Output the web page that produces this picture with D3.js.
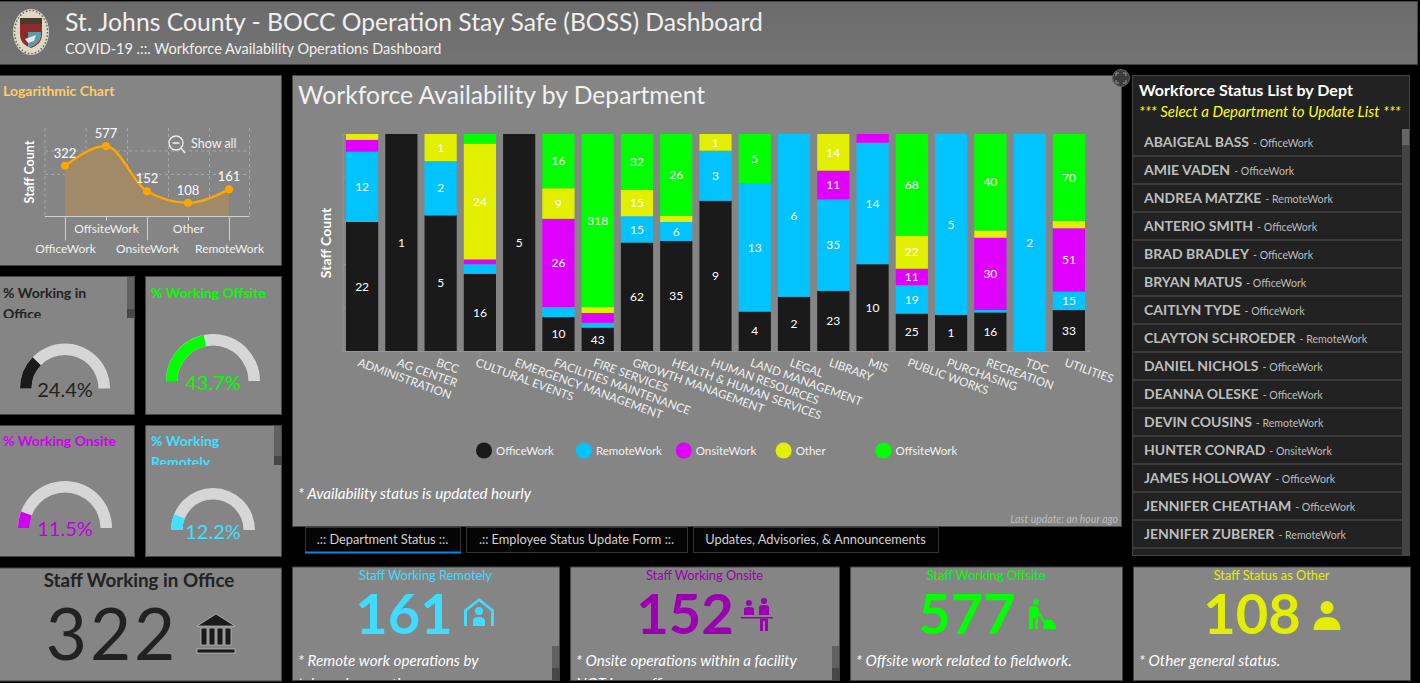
<!DOCTYPE html>
<html>
<head>
<meta charset="utf-8">
<script src="https://cdn.jsdelivr.net/npm/d3@7"></script>
<style>
  html, body { margin: 0; background: #000; overflow: hidden; }
  svg { display: block; font-family: Lato, "Open Sans", sans-serif; }
</style>
</head>
<body>
<svg id="board" width="1420" height="683"></svg>
<script>
// Stacked chart data
var departments = ["ADMINISTRATION", "AG CENTER", "BCC", "CULTURAL EVENTS", "EMERGENCY MANAGEMENT",
  "FACILITIES MAINTENANCE", "FIRE SERVICES", "GROWTH MANAGEMENT", "HEALTH & HUMAN SERVICES",
  "HUMAN RESOURCES", "LAND MANAGEMENT", "LEGAL", "LIBRARY", "MIS", "PUBLIC WORKS", "PURCHASING",
  "RECREATION", "TDC", "UTILITIES"];
var statusNames = ["OfficeWork", "RemoteWork", "OnsiteWork", "Other", "OffsiteWork"];
var statusColors = ["#1a1a1a", "#00c3ff", "#df00ff", "#e2f000", "#00ff00"];
var officeWork  = [22, 1, 5, 16, 5, 10, 43, 62, 35, 9, 4, 2, 23, 10, 25, 1, 16, 0, 33];
var remoteWork  = [12, 0, 2, 2, 0, 3, 9, 15, 6, 3, 13, 6, 35, 14, 19, 5, 1, 2, 15];
var onsiteWork  = [2, 0, 0, 1, 0, 26, 18, 0, 0, 0, 0, 0, 11, 1, 11, 0, 30, 0, 51];
var otherWork   = [1, 0, 1, 24, 0, 9, 11, 15, 2, 1, 0, 0, 14, 0, 22, 0, 3, 0, 6];
var offsiteWork = [0, 0, 0, 2, 0, 16, 318, 32, 26, 0, 5, 0, 0, 0, 68, 0, 40, 0, 70];

// Log chart data
var logCategories = ["OfficeWork", "OffsiteWork", "OnsiteWork", "Other", "RemoteWork"];
var logValues = [322, 577, 152, 108, 161];
var logGridValues = [500, 250];

// Gauges
var gaugeValues = [24.4, 43.7, 11.5, 12.2];
var gaugeColors = ["#1a1a1a", "#00ff00", "#d000f0", "#40e0ff"];
var gaugeTextColors = ["#222222", "#00ff00", "#c000e0", "#40e0ff"];

// Employee list
var employeeNames = ["ABAIGEAL BASS", "AMIE VADEN", "ANDREA MATZKE", "ANTERIO SMITH", "BRAD BRADLEY",
  "BRYAN MATUS", "CAITLYN TYDE", "CLAYTON SCHROEDER", "DANIEL NICHOLS", "DEANNA OLESKE",
  "DEVIN COUSINS", "HUNTER CONRAD", "JAMES HOLLOWAY", "JENNIFER CHEATHAM", "JENNIFER ZUBERER"];
var employeeStatus = ["OfficeWork", "OfficeWork", "RemoteWork", "OfficeWork", "OfficeWork",
  "OfficeWork", "OfficeWork", "RemoteWork", "OfficeWork", "OfficeWork",
  "RemoteWork", "OnsiteWork", "OfficeWork", "OfficeWork", "RemoteWork"];

var tabLabels = [".:: Department Status ::.", ".:: Employee Status Update Form ::.", "Updates, Advisories, & Announcements"];

var svg = d3.select("#board");
var defs = svg.append("defs");
var panelColor = "#858585";

function panel(x, y, w, h, fill) {
  return svg.append("rect").attr("x", x + 0.5).attr("y", y + 0.5).attr("width", w).attr("height", h)
    .attr("fill", fill || panelColor).attr("stroke", "#444");
}

function label(parent, x, y, str, size, color, opts) {
  opts = opts || {};
  return parent.append("text").attr("x", x).attr("y", y).text(str)
    .attr("font-size", size).attr("fill", color)
    .attr("font-weight", opts.weight || 400)
    .attr("font-style", opts.italic ? "italic" : "normal")
    .attr("text-anchor", opts.anchor || "start");
}

// clipped text block, these panels scroll in the real dashboard
function clipGroup(id, x, y, w, h) {
  defs.append("clipPath").attr("id", id).append("rect").attr("x", x).attr("y", y).attr("width", w).attr("height", h);
  return svg.append("g").attr("clip-path", "url(#" + id + ")");
}

function scrollBar(x, y, h, thumbY, thumbH) {
  svg.append("rect").attr("x", x).attr("y", y).attr("width", 7).attr("height", h).attr("fill", "#616161");
  svg.append("rect").attr("x", x).attr("y", thumbY).attr("width", 7).attr("height", thumbH).attr("fill", "#474747");
}

// Header
var headerFill = defs.append("linearGradient").attr("id", "headerFill").attr("x1", 0).attr("x2", 0).attr("y1", 0).attr("y2", 1);
headerFill.append("stop").attr("offset", 0).attr("stop-color", "#6b6b6b");
headerFill.append("stop").attr("offset", 1).attr("stop-color", "#747474");
panel(-1, 1, 1418, 63, "url(#headerFill)");
label(svg, 65, 31, "St. Johns County - BOCC Operation Stay Safe (BOSS) Dashboard", 24.7, "#f0f0f0");
label(svg, 65, 54, "COVID-19 .::. Workforce Availability Operations Dashboard", 14.5, "#f0f0f0");

// County seal, simplified
var seal = svg.append("g").attr("transform", "translate(31,32)");
seal.append("ellipse").attr("rx", 18).attr("ry", 23).attr("fill", "#ded9c6");
seal.append("ellipse").attr("rx", 16.5).attr("ry", 21.5).attr("fill", "none").attr("stroke", "#6a6353").attr("stroke-width", 1.5).attr("stroke-dasharray", "1.5 2");
seal.append("path").attr("d", "M-11,-12H11V3Q11,12 0,16Q-11,12 -11,3Z").attr("fill", "#8c2a2c");
seal.append("path").attr("d", "M-11,-14H11V-8H-11Z").attr("fill", "#4a3a28");
seal.append("path").attr("d", "M-3,0H10V4Q10,11 0,15H-3Z").attr("fill", "#5d9aa5");
seal.append("path").attr("d", "M-6,7L5,3L3,9L-3,11Z").attr("fill", "#e6e6e6");

// Main stacked chart
panel(292, 75, 829, 451);
label(svg, 298, 104, "Workforce Availability by Department", 24.7, "#f2f2f2");

var stackMargin = { left: 346, right: 1085, top: 134, bottom: 351 };
var xStack = d3.scaleBand().domain(departments).range([stackMargin.left, stackMargin.right]).paddingInner(0.18).paddingOuter(0);
var yStack = d3.scaleLinear().domain([0, 1]).range([stackMargin.bottom, stackMargin.top]);

var stackRows = departments.map(function(dept, i) {
  return { dept: dept, OfficeWork: officeWork[i], RemoteWork: remoteWork[i], OnsiteWork: onsiteWork[i], Other: otherWork[i], OffsiteWork: offsiteWork[i] };
});
var series = d3.stack().keys(statusNames).offset(d3.stackOffsetExpand)(stackRows);

// Axes first so the bars sit on top
var yAxisG = svg.append("g").attr("transform", "translate(342.5,0)")
  .call(d3.axisLeft(yStack).tickValues([0, 0.2, 0.4, 0.6, 0.8, 1]).tickSize(-4).tickFormat(""));
yAxisG.selectAll("path, line").attr("stroke", "#959595");

var xAxisG = svg.append("g").attr("transform", "translate(0,351.5)")
  .call(d3.axisBottom(xStack).tickSize(4).tickPadding(6));
xAxisG.select(".domain").attr("stroke", "#959595").attr("d", "M342,0H1090");
xAxisG.selectAll("line").attr("stroke", "#959595");
xAxisG.selectAll("text")
  .attr("font-family", "Lato, sans-serif").attr("font-size", 11.6).attr("fill", "#f0f0f0")
  .attr("text-anchor", "start").attr("x", 0).attr("y", 11).attr("dy", "0.35em")
  .attr("transform", "rotate(20)");

var layers = svg.append("g").selectAll("g").data(series).join("g")
  .attr("fill", function(d, i) { return statusColors[i]; });
layers.selectAll("rect").data(function(d) { return d; }).join("rect")
  .attr("x", function(d) { return xStack(d.data.dept); })
  .attr("width", xStack.bandwidth())
  .attr("y", function(d) { return yStack(d[1]); })
  .attr("height", function(d) { return yStack(d[0]) - yStack(d[1]); });

// value labels only where the segment has room
series.forEach(function(layer) {
  svg.append("g").selectAll("text").data(layer.filter(function(d) {
    return yStack(d[0]) - yStack(d[1]) > 14;
  })).join("text")
    .attr("x", function(d) { return xStack(d.data.dept) + xStack.bandwidth() / 2; })
    .attr("y", function(d) { return (yStack(d[0]) + yStack(d[1])) / 2; })
    .attr("dy", "0.35em").attr("text-anchor", "middle").attr("font-size", 12).attr("fill", "#fff")
    .text(function(d) { return d.data[layer.key]; });
});

label(svg, 0, 0, "Staff Count", 14, "#fff", { weight: 700, anchor: "middle" })
  .attr("transform", "translate(331,243) rotate(-90)");

// Legend
var xLegend = d3.scalePoint().domain(statusNames).range([484, 883.5]);
var legend = svg.append("g").selectAll("g").data(statusNames).join("g")
  .attr("transform", function(d) { return "translate(" + xLegend(d) + ",450.5)"; });
legend.append("circle").attr("r", 8).attr("fill", function(d, i) { return statusColors[i]; });
legend.append("text").attr("x", 12).attr("dy", "0.35em").attr("font-size", 11.5).attr("fill", "#f2f2f2").text(function(d) { return d; });

label(svg, 298, 499, "* Availability status is updated hourly", 15.2, "#fff", { italic: true });
label(svg, 1118, 523, "Last update: an hour ago", 10.5, "#bdbdbd", { italic: true, anchor: "end" });

// Expand button on the chart corner
var expand = svg.append("g").attr("transform", "translate(1121,78)");
expand.append("circle").attr("r", 8.5).attr("fill", "#3c3c3c").attr("stroke", "#666");
expand.append("path").attr("d", "M-5,-2V-5H-2M2,-5H5V-2M5,2V5H2M-2,5H-5V2").attr("fill", "none").attr("stroke", "#9a9a9a");

// Tabs
var tabX = [305, 466, 693];
var tabW = [155, 221, 245];
tabLabels.forEach(function(t, i) {
  svg.append("rect").attr("x", tabX[i] + 0.5).attr("y", 527.5).attr("width", tabW[i]).attr("height", 25)
    .attr("fill", "#050505").attr("stroke", "#333");
  label(svg, tabX[i] + tabW[i] / 2, 544, t, 12.8, "#d0d0d0", { anchor: "middle" });
});
svg.append("rect").attr("x", 305).attr("y", 551.5).attr("width", 156).attr("height", 2).attr("fill", "#0a84e8");

// Log chart panel
panel(-1, 75, 282, 190);
label(svg, 3, 96, "Logarithmic Chart", 14, "#ffcc66", { weight: 700 });

var xLog = d3.scalePoint().domain(logCategories).range([65, 229]);
var yLog = d3.scaleLog().domain([72, 1000]).range([216.5, 127.5]);
var vGrid = [45, 86, 127.5, 168.5, 209.5, 249.5];

svg.append("g").selectAll("line").data(vGrid).join("line")
  .attr("x1", function(d) { return d; }).attr("x2", function(d) { return d; })
  .attr("y1", 128).attr("y2", 216.5)
  .attr("stroke", "#a8a8a8").attr("stroke-dasharray", "3 3");
svg.append("g").selectAll("line").data(logGridValues).join("line")
  .attr("x1", 45).attr("x2", 249.5)
  .attr("y1", function(d) { return yLog(d); }).attr("y2", function(d) { return yLog(d); })
  .attr("stroke", "#a8a8a8").attr("stroke-dasharray", "3 3");

var logArea = d3.area().x(function(d, i) { return xLog(logCategories[i]); }).y0(216.5).y1(function(d) { return yLog(d); }).curve(d3.curveMonotoneX);
var logLine = d3.line().x(function(d, i) { return xLog(logCategories[i]); }).y(function(d) { return yLog(d); }).curve(d3.curveMonotoneX);
svg.append("path").datum(logValues).attr("d", logArea).attr("fill", "#a08a68");
svg.append("path").datum(logValues).attr("d", logLine).attr("fill", "none").attr("stroke", "#ffa500").attr("stroke-width", 2.5);

var logAxis = svg.append("g").attr("transform", "translate(0,216.5)")
  .call(d3.axisBottom(xLog).tickSize(4).tickSizeOuter(0));
logAxis.select(".domain").attr("stroke", "#d0d0d0").attr("d", "M45,0H249.5");
logAxis.selectAll("line").attr("stroke", "#d0d0d0").attr("y2", function(d, i) { return i % 2 === 0 ? 24 : 4; });
logAxis.selectAll("text").attr("font-family", "Lato, sans-serif").attr("font-size", 12).attr("fill", "#f0f0f0")
  .attr("dy", 0).attr("y", function(d, i) { return i % 2 === 0 ? 36 : 16; });

svg.append("g").selectAll("circle").data(logValues).join("circle")
  .attr("cx", function(d, i) { return xLog(logCategories[i]); })
  .attr("cy", function(d) { return yLog(d); })
  .attr("r", 4).attr("fill", "#ffa500");
svg.append("g").selectAll("text").data(logValues).join("text")
  .attr("x", function(d, i) { return xLog(logCategories[i]); })
  .attr("y", function(d) { return yLog(d) - 8; })
  .attr("text-anchor", "middle").attr("font-size", 13).attr("fill", "#fff")
  .text(function(d) { return d; });

label(svg, 0, 0, "Staff Count", 12.5, "#fff", { weight: 700, anchor: "middle" })
  .attr("transform", "translate(34,172) rotate(-90)");

var zoomOut = svg.append("g").attr("transform", "translate(176,143)").attr("fill", "none").attr("stroke", "#f0f0f0").attr("stroke-width", 1.3);
zoomOut.append("circle").attr("r", 7);
zoomOut.append("path").attr("d", "M-3.5,0H3.5M5,5L9,10");
label(svg, 191, 148, "Show all", 12.5, "#f0f0f0");

// Gauges
var gaugeBoxes = [
  { x: -1, y: 276, w: 135, h: 138, cx: 65, cy: 388.5, r: 45, textY: 397 },
  { x: 145, y: 276, w: 136, h: 138, cx: 213, cy: 381, r: 47, textY: 390 },
  { x: -1, y: 425, w: 135, h: 131, cx: 65, cy: 528, r: 47, textY: 536 },
  { x: 145, y: 425, w: 136, h: 131, cx: 213, cy: 530, r: 42, textY: 538.5 }
];
var gaugeScale = d3.scaleLinear().domain([0, 100]).range([-Math.PI / 2, Math.PI / 2]);
gaugeBoxes.forEach(function(b, i) {
  panel(b.x, b.y, b.w, b.h);
  var g = svg.append("g").attr("transform", "translate(" + b.cx + "," + b.cy + ")");
  var arc = d3.arc().innerRadius(b.r - 11.5).outerRadius(b.r);
  g.append("path").attr("d", arc({ startAngle: gaugeScale(0), endAngle: gaugeScale(100) })).attr("fill", "#d6d6d6");
  g.append("path").attr("d", arc({ startAngle: gaugeScale(0), endAngle: gaugeScale(gaugeValues[i]) })).attr("fill", gaugeColors[i]);
  label(svg, b.cx, b.textY, gaugeValues[i] + "%", 20, gaugeTextColors[i], { anchor: "middle" });
});

var g1 = clipGroup("clipG1", 0, 278, 127, 40);
label(g1, 3, 298, "% Working in", 14, "#222", { weight: 700 });
label(g1, 3, 319, "Office", 14, "#222", { weight: 700 });
scrollBar(127, 277, 41, 309, 9);
label(svg, 151, 298, "% Working Offsite", 14, "#00ff00", { weight: 700 });
label(svg, 3, 446, "% Working Onsite", 14, "#d000ee", { weight: 700 });
var g4 = clipGroup("clipG4", 147, 426, 127, 39);
label(g4, 151, 446, "% Working", 14, "#40e0ff", { weight: 700 });
label(g4, 151, 467, "Remotely", 14, "#40e0ff", { weight: 700 });
scrollBar(274, 426, 39, 456, 9);

// Office card
panel(-1, 567.5, 282, 113);
label(svg, 139, 586.5, "Staff Working in Office", 18.8, "#222", { weight: 700, anchor: "middle" });
label(svg, 112, 660, "322", 71, "#222", { anchor: "middle" }).attr("letter-spacing", 3);
var bank = svg.append("g").attr("transform", "translate(216,634)").attr("fill", "#1a1a1a").attr("stroke", "#c8c8c8").attr("stroke-width", 0.7);
bank.append("path").attr("d", "M0,-20L19,-8H-19Z");
bank.selectAll("rect.col").data([-15, -7, 1, 9]).join("rect").attr("x", function(d) { return d; }).attr("y", -6).attr("width", 6).attr("height", 17);
bank.append("rect").attr("x", -19).attr("y", 15).attr("width", 38).attr("height", 4);

// Stat cards
var cards = [
  { x: 292, w: 267, color: "#3fdcff", numX: 404, title: "Staff Working Remotely", num: "161", note: "* Remote work operations by", more: "telework operations." },
  { x: 570, w: 269, color: "#9a00b0", numX: 685, title: "Staff Working Onsite", num: "152", note: "* Onsite operations within a facility", more: "NOT in an office." },
  { x: 850, w: 272, color: "#00ff00", numX: 967, title: "Staff Working Offsite", num: "577", note: "* Offsite work related to fieldwork." },
  { x: 1133, w: 277, color: "#e2f000", numX: 1252, title: "Staff Status as Other", num: "108", note: "* Other general status." }
];
cards.forEach(function(c, i) {
  panel(c.x, 566.5, c.w, 113.5);
  label(svg, c.x + c.w / 2 - (i === 0 ? 0 : 0), 580, c.title, 12.8, c.color, { anchor: "middle" });
  label(svg, c.numX, 633.5, c.num, 56, c.color, { anchor: "middle", weight: 700 });
  var t = clipGroup("clipCard" + i, c.x + 1, 650, c.w - (c.more ? 9 : 2), 30);
  label(t, c.x + 6, 665.5, c.note, 15.2, "#fff", { italic: true });
  if (c.more) {
    label(t, c.x + 6, 689, c.more, 15.2, "#fff", { italic: true });
    scrollBar(c.x + c.w - 7, 646, 34, 668, 12);
  }
});

// card icons, hand drawn
var iconRemote = svg.append("g").attr("transform", "translate(479,612)").attr("fill", "#3fdcff");
iconRemote.append("path").attr("d", "M-15,14V-2L0,-14L15,-2V14H12V-1L0,-10.5L-12,-1V14Z");
iconRemote.append("circle").attr("cy", -1).attr("r", 4);
iconRemote.append("path").attr("d", "M-6,14V9Q-6,5 0,5Q6,5 6,9V14Z");

var iconOnsite = svg.append("g").attr("transform", "translate(757,615)").attr("fill", "#9a00b0");
iconOnsite.append("circle").attr("cx", -8).attr("cy", -12).attr("r", 3);
iconOnsite.append("circle").attr("cx", 7).attr("cy", -14).attr("r", 3);
iconOnsite.append("path").attr("d", "M-13,0V-6Q-13,-8 -8,-8Q-3,-8 -3,-6V0Z");
iconOnsite.append("path").attr("d", "M2,0V-8Q2,-10 7,-10Q12,-10 12,-8V0Z");
iconOnsite.append("rect").attr("x", -16).attr("y", 2).attr("width", 32).attr("height", 1.5);
iconOnsite.append("path").attr("d", "M3,3.5H11V16H8V6H6V16H3Z");

var iconOffsite = svg.append("g").attr("transform", "translate(1036,614)").attr("fill", "#00ff00");
iconOffsite.append("circle").attr("cy", -12).attr("r", 2.8);
iconOffsite.append("path").attr("d", "M-7,15V-4Q-7,-8 -2,-8Q2,-8 3,-4L3,-2L11,10L9.5,11L2,1V15H-1V4H-3V15Z");
iconOffsite.append("path").attr("d", "M10,6H16L20,12V15H7L7,12Z");

var iconOther = svg.append("g").attr("transform", "translate(1327,615)").attr("fill", "#e2f000");
iconOther.append("circle").attr("cy", -7.5).attr("r", 6.5);
iconOther.append("path").attr("d", "M-13.5,15Q-13,2 0,2Q13,2 13.5,15Z");

// Workforce list
panel(1132, 75, 277, 480, "#222");
label(svg, 1139, 96, "Workforce Status List by Dept", 16, "#fff", { weight: 700 });
label(svg, 1139, 117, "*** Select a Department to Update List ***", 15, "#ffff00", { italic: true });
svg.append("rect").attr("x", 1402).attr("y", 129).attr("width", 7).attr("height", 426).attr("fill", "#444");
svg.append("rect").attr("x", 1402).attr("y", 129).attr("width", 7).attr("height", 16).attr("fill", "#666");

var yRows = d3.scaleBand().domain(employeeNames).range([128.5, 548.5]);
var rows = svg.append("g").selectAll("g").data(employeeNames).join("g")
  .attr("transform", function(d) { return "translate(0," + yRows(d) + ")"; });
rows.append("line").attr("x1", 1133).attr("x2", 1402).attr("y1", 27.5).attr("y2", 27.5).attr("stroke", "#555");
var rowText = rows.append("text").attr("x", 1144).attr("y", 18.5);
rowText.append("tspan").attr("font-size", 14).attr("font-weight", 700).attr("fill", "#bdbdbd").text(function(d) { return d; });
rowText.append("tspan").attr("dx", 4).attr("font-size", 10.6).attr("fill", "#bdbdbd").text(function(d, i) { return "- " + employeeStatus[i]; });
</script>
</body>
</html>
